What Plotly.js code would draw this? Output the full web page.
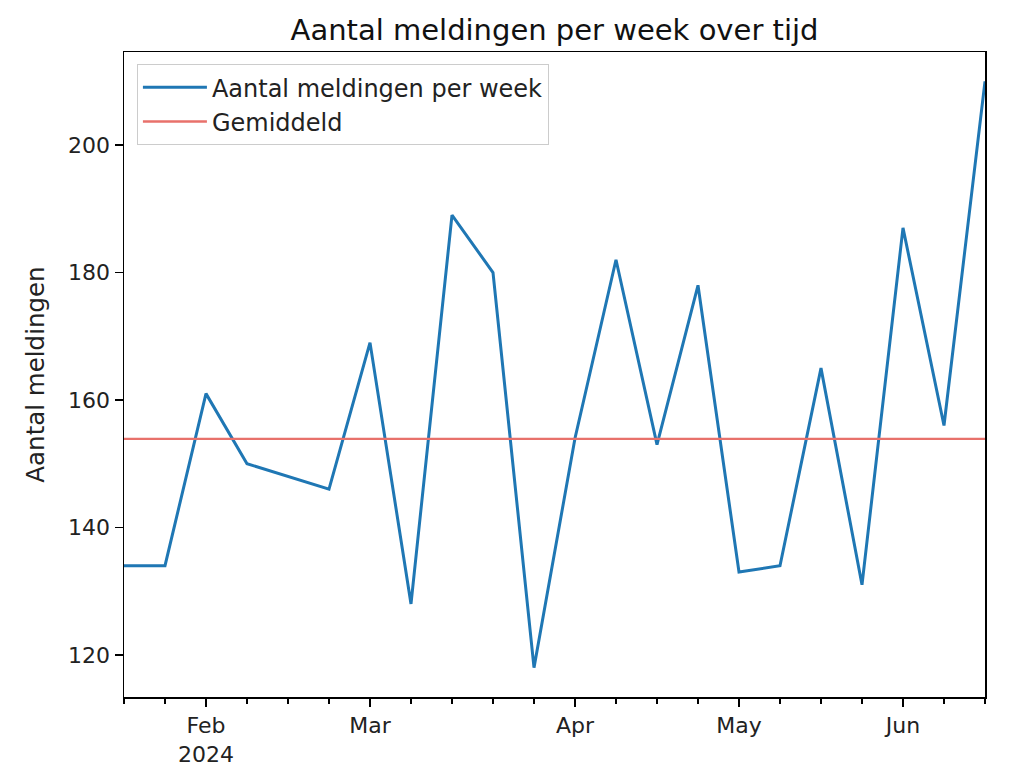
<!DOCTYPE html>
<html>
<head>
<meta charset="utf-8">
<script src="https://cdn.plot.ly/plotly-3.0.1.min.js"></script>
<style>html,body{margin:0;padding:0;background:#fff;}#chart{width:1024px;height:768px;}</style>
</head>
<body>
<div id="chart"></div>
<script>
// Week start dates (Monday) of each weekly period
const weeks = ["2024-01-15","2024-01-22","2024-01-29","2024-02-05","2024-02-19","2024-02-26",
  "2024-03-04","2024-03-11","2024-03-18","2024-03-25","2024-04-01","2024-04-08","2024-04-15",
  "2024-04-22","2024-04-29","2024-05-06","2024-05-13","2024-05-20","2024-05-27","2024-06-03","2024-06-10"];
const counts = [134,134,161,150,146,169,128,189,180,118,154,182,153,178,133,134,165,131,187,156,210];
const meanValue = 153.9;
// Month ticks sit on the week that contains the first of the month
const tickWeeks = ["2024-01-29","2024-02-26","2024-04-01","2024-04-29","2024-05-27"];
const tickLabels = ["Feb<br>2024","Mar","Apr","May","Jun"];
const yTicks = [120,140,160,180,200];

const FONT = "DejaVu Sans, sans-serif";
const traces = [
  {x: weeks, y: counts, type: "scatter", mode: "lines", name: "Aantal meldingen per week",
   line: {color: "#1f77b4", width: 3}},
  {x: [weeks[0], weeks[weeks.length-1]], y: [meanValue, meanValue], type: "scatter", mode: "lines",
   name: "Gemiddeld", line: {color: "#e8716b", width: 2.4}}
];
const layout = {
  width: 1024, height: 768,
  margin: {l: 124, r: 39, t: 52, b: 71},
  paper_bgcolor: "#fff", plot_bgcolor: "#fff",
  font: {family: FONT, color: "#222", size: 22},
  title: {text: "Aantal meldingen per week over tijd", font: {family: FONT, size: 29, color: "#111"},
          x: 0.5, xref: "paper", xanchor: "center", y: 1 - 30/768, yanchor: "middle", yref: "container"},
  xaxis: {type: "date", range: [weeks[0], weeks[weeks.length-1]],
    tickmode: "array", tickvals: tickWeeks, ticktext: tickLabels,
    ticks: "outside", ticklen: 8, tickwidth: 1.5, tickcolor: "#000",
    showgrid: false, zeroline: false, showline: true, linecolor: "#000", linewidth: 1.5, mirror: true,
    tickfont: {size: 22, color: "#222"},
    minor: {dtick: 7*86400000, tick0: weeks[0], ticks: "outside", ticklen: 5, tickwidth: 1.2, tickcolor: "#000", showgrid: false}},
  yaxis: {range: [113.4, 214.6], tickmode: "array", tickvals: yTicks,
    ticks: "outside", ticklen: 8, tickwidth: 1.5, tickcolor: "#000",
    showgrid: false, zeroline: false, showline: true, linecolor: "#000", linewidth: 1.5, mirror: true,
    tickfont: {size: 22, color: "#222"},
    title: {text: "Aantal meldingen", font: {size: 24.5, color: "#222"}, standoff: 16}},
  showlegend: true,
  legend: {x: 0.015, y: 0.981, xanchor: "left", yanchor: "top", itemwidth: 64,
    bgcolor: "rgba(255,255,255,0.8)", bordercolor: "#cccccc", borderwidth: 1,
    font: {family: FONT, size: 24, color: "#222"}}
};
Plotly.newPlot("chart", traces, layout, {staticPlot: true, displayModeBar: false});
</script>
</body>
</html>
